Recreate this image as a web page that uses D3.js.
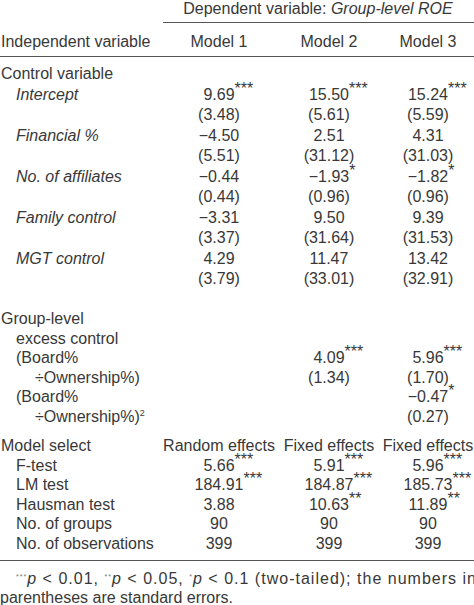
<!DOCTYPE html>
<html><head><meta charset="utf-8">
<script src="https://cdn.jsdelivr.net/npm/d3@7"></script>
<style>body{margin:0;background:#fff}svg{display:block}text{font-family:"Liberation Sans",Arial,sans-serif;font-size:16px;fill:#383838}</style>
</head><body><svg id="c" width="474" height="605"></svg>
<script>
const models = ["Model 1", "Model 2", "Model 3"];
const rowLabels = ["Control variable","Intercept","","Financial %","","No. of affiliates","","Family control","","MGT control",""];
const rowIndent = [0,1,1,1,1,1,1,1,1,1,1];
const rowItalic = [0,1,0,1,0,1,0,1,0,1,0];
const rowVals = [
  ["","",""],["9.69","15.50","15.24"],["(3.48)","(5.61)","(5.59)"],
  ["\u22124.50","2.51","4.31"],["(5.51)","(31.12)","(31.03)"],
  ["\u22120.44","\u22121.93","\u22121.82"],["(0.44)","(0.96)","(0.96)"],
  ["\u22123.31","9.50","9.39"],["(3.37)","(31.64)","(31.53)"],
  ["4.29","11.47","13.42"],["(3.79)","(33.01)","(32.91)"]];
const rowStars = [
  ["","",""],["***","***","***"],["","",""],["","",""],["","",""],
  ["","*","*"],["","",""],["","",""],["","",""],["","",""],["","",""]];
const gLabels = ["Group-level","excess control","(Board%","\u00f7Ownership%)","(Board%","\u00f7Ownership%)"];
const gIndent = [0,1,1,2,1,2];
const gVals = [["","",""],["","",""],["","4.09","5.96"],["","(1.34)","(1.70)"],["","","\u22120.47"],["","","(0.27)"]];
const gStars = [["","",""],["","",""],["","***","***"],["","",""],["","","*"],["","",""]];
const mLabels = ["Model select","F-test","LM test","Hausman test","No. of groups","No. of observations"];
const mIndent = [0,1,1,1,1,1];
const mVals = [["Random effects","Fixed effects","Fixed effects"],["5.66","5.91","5.96"],["184.91","184.87","185.73"],["3.88","10.63","11.89"],["90","90","90"],["399","399","399"]];
const mStars = [["","",""],["***","***","***"],["***","***","***"],["","**","**"],["","",""],["","",""]];

const svg = d3.select("#c");
const colX = {"Model 1":219,"Model 2":329,"Model 3":428};
const indentX = [1, 16, 35];

svg.append("text").attr("x",318).attr("y",14).attr("text-anchor","middle")
  .text("Dependent variable: ").append("tspan").attr("font-style","italic").text("Group-level ROE");
svg.append("line").attr("x1",163).attr("x2",474).attr("y1",22.5).attr("y2",22.5).attr("stroke","#555");
svg.append("text").attr("x",1).attr("y",47).text("Independent variable");
models.forEach(m=>svg.append("text").attr("x",colX[m]).attr("y",47).attr("text-anchor","middle").text(m));
svg.append("line").attr("x1",0).attr("x2",474).attr("y1",56.5).attr("y2",56.5).attr("stroke","#555");

function block(labels, indent, italic, vals, stars, y0, dy, isG){
  labels.forEach((l,i)=>{
    const y = y0 + i*dy;
    const t = svg.append("text").attr("x",indentX[indent[i]]).attr("y",y).attr("font-style",italic&&italic[i]?"italic":null).text(l);
    if(i===5 && isG){ t.append("tspan").attr("font-size",9).attr("dy",-6).text("2"); }
    models.forEach((m,j)=>{
      const v = vals[i][j]; if(!v) return;
      const tx = svg.append("text").attr("x",colX[m]).attr("y",y).attr("text-anchor","middle").text(v);
      if(v.length>10){ tx.attr("font-size",15.3); }
      if(stars[i][j]){
        const w = tx.node().getComputedTextLength();
        svg.append("text").attr("x",colX[m]+w/2).attr("y",y-6).attr("font-size",7).attr("fill","#777").text(stars[i][j]);
      }
    });
  });
}
block(rowLabels,rowIndent,rowItalic,rowVals,rowStars,79,20.5,false);
block(gLabels,gIndent,null,gVals,gStars,324,19.5,true);
block(mLabels,mIndent,null,mVals,mStars,451,19.6,false);
svg.append("line").attr("x1",0).attr("x2",474).attr("y1",560.5).attr("y2",560.5).attr("stroke","#555");
const f = svg.append("text").attr("x",16).attr("y",584);
f.append("tspan").attr("font-size",7).attr("fill","#777").attr("dy",-5).text("***");
f.append("tspan").attr("font-style","italic").attr("dy",5).text("p");
f.append("tspan").text(" < 0.01, ");
f.append("tspan").attr("font-size",7).attr("fill","#777").attr("dy",-5).text("**");
f.append("tspan").attr("font-style","italic").attr("dy",5).text("p");
f.append("tspan").text(" < 0.05, ");
f.append("tspan").attr("font-size",7).attr("fill","#777").attr("dy",-5).text("*");
f.append("tspan").attr("font-style","italic").attr("dy",5).text("p");
f.append("tspan").text(" < 0.1 (two-tailed); the numbers in");
f.attr("textLength",460).attr("lengthAdjust","spacing");
svg.append("text").attr("x",0).attr("y",603).text("parentheses are standard errors.");
</script></body></html>
